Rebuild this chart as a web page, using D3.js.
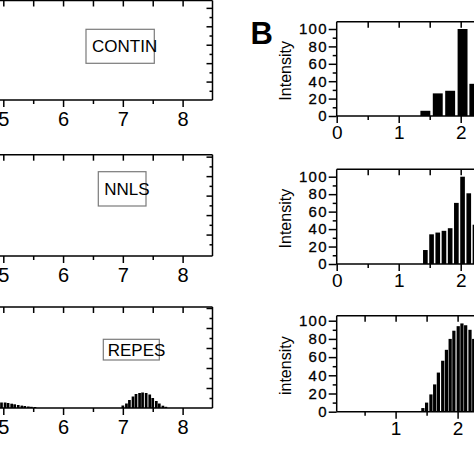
<!DOCTYPE html>
<html>
<head>
<meta charset="utf-8">
<script src="https://cdn.jsdelivr.net/npm/d3@7"></script>
<style>
  html, body { margin: 0; padding: 0; background: #fff; }
  svg { display: block; font-family: "Liberation Sans", Arial, sans-serif; }
</style>
</head>
<body>
<div id="chart"></div>
<script>
// ---- data ----
// left column (A): method names and the REPES distribution
const methodNames = ["CONTIN", "NNLS", "REPES"];
const leftXTicks = [5, 6, 7, 8];
const repesX = [4.92, 4.97, 5.03, 5.08, 5.14, 5.19, 5.25, 5.31, 5.36, 5.42, 5.47, 5.53,
                7.00, 7.06, 7.11, 7.17, 7.22, 7.28, 7.33, 7.39, 7.45, 7.50, 7.56, 7.61, 7.67, 7.72];
const repesY = [5.5, 5.5, 5.5, 5, 4.3, 3.7, 3, 2.4, 2, 1.5, 1.2, 1,
                2.5, 4.5, 8, 11.5, 14, 15, 15.5, 15, 13.5, 10, 7, 4.5, 2.3, 1.2];

// right column (B): intensity distributions
const continX = [1.43, 1.63, 1.83, 2.03, 2.22];
const continY = [6, 26, 29, 100, 37];
const nnlsX = [1.43, 1.53, 1.63, 1.73, 1.83, 1.93, 2.03, 2.13, 2.23];
const nnlsY = [16, 34, 36, 38, 41, 70, 100, 81, 45];
const repesBX = [1.44, 1.50, 1.57, 1.63, 1.69, 1.76, 1.82, 1.88, 1.94, 2.01, 2.07, 2.13, 2.20, 2.26];
const repesBY = [4, 10, 19, 30, 43, 56, 68, 80, 89, 94, 97, 95, 90, 80];
const intensityTicks = [0, 20, 40, 60, 80, 100];
const intensityTitles = ["Intensity", "Intensity", "intensity"];

const W = 474, H = 474;
const svg = d3.select("#chart").append("svg")
    .attr("width", W)
    .attr("height", H);

// style an axis group: black lines, drop the domain path
function styleAxis(g) {
    g.selectAll("line").attr("stroke", "#000").attr("stroke-width", 1.5);
    g.select(".domain").remove();
}

// ---------- left column ----------
const leftPanels = [
    { top: 0.5, bottom: 100, yMin: 0, yMax: 108, box: [86, 29.3, 68.3, 34], tx: 92, ty: 52 },
    { top: 154.7, bottom: 256, yMin: -2, yMax: 102, box: [98.3, 171.7, 47.7, 34.3], tx: 104.3, ty: 195 },
    { top: 307, bottom: 408, yMin: 0, yMax: 101, box: [103.3, 339.3, 56, 20.7], tx: 107.7, ty: 355.7 }
];

leftPanels.forEach((p, i) => {
    const x = d3.scaleLinear().domain([5, 8.5]).range([3.3, 212.5]);
    const y = d3.scaleLinear().domain([p.yMin, p.yMax]).range([p.bottom, p.top]);
    const g = svg.append("g");

    // bars (only REPES has visible bars in this crop)
    if (i === 2) {
        const bw = x(5.045) - x(5);
        g.selectAll("rect.bar")
            .data(repesX.map((d, k) => ({ x: d, y: repesY[k] })))
            .join("rect")
            .attr("class", "bar")
            .attr("x", d => Math.max(0, x(d.x) - bw / 2))
            .attr("width", d => x(d.x) - bw / 2 < 0 ? bw + (x(d.x) - bw / 2) : bw)
            .attr("y", d => y(d.y))
            .attr("height", d => y(0) - y(d.y))
            .attr("fill", "#000");
    }

    // bottom axis: major with labels, minor shorter
    const bMajor = g.append("g").attr("transform", `translate(0,${p.bottom})`)
        .call(d3.axisBottom(x).tickValues(leftXTicks).tickSize(7).tickSizeOuter(0)
            .tickPadding(5).tickFormat(d3.format("d")));
    styleAxis(bMajor);
    bMajor.selectAll("text").attr("font-size", 20).attr("fill", "#000")
        .attr("font-family", "Liberation Sans, Arial, sans-serif");
    const bMinor = g.append("g").attr("transform", `translate(0,${p.bottom})`)
        .call(d3.axisBottom(x).tickValues([5.5, 6.5, 7.5]).tickSize(4).tickFormat(""));
    styleAxis(bMinor);

    // top axis, ticks pointing inward
    const tAx = g.append("g").attr("transform", `translate(0,${p.top})`)
        .call(d3.axisTop(x).tickValues([5, 5.5, 6, 6.5, 7, 7.5, 8]).tickSize(-6).tickFormat(""));
    styleAxis(tAx);

    // right axis, ticks inward, long on every 20
    const yTicks = d3.range(10, p.yMax, 10);
    const rLong = g.append("g").attr("transform", `translate(${x(8.5)},0)`)
        .call(d3.axisRight(y).tickValues(yTicks.filter(v => v % 20 === 0)).tickSize(-6).tickFormat(""));
    styleAxis(rLong);
    const rShort = g.append("g").attr("transform", `translate(${x(8.5)},0)`)
        .call(d3.axisRight(y).tickValues(yTicks.filter(v => v % 20 !== 0)).tickSize(-3).tickFormat(""));
    styleAxis(rShort);

    // frame lines
    g.append("line").attr("x1", -2).attr("x2", x(8.5)).attr("y1", p.top).attr("y2", p.top)
        .attr("stroke", "#000").attr("stroke-width", 1.5);
    g.append("line").attr("x1", -2).attr("x2", x(8.5)).attr("y1", p.bottom).attr("y2", p.bottom)
        .attr("stroke", "#000").attr("stroke-width", 1.5);
    g.append("line").attr("x1", x(8.5)).attr("x2", x(8.5)).attr("y1", p.top).attr("y2", p.bottom)
        .attr("stroke", "#000").attr("stroke-width", 1.5);

    // method label in a grey box
    g.append("rect").attr("x", p.box[0]).attr("y", p.box[1])
        .attr("width", p.box[2]).attr("height", p.box[3])
        .attr("fill", "none").attr("stroke", "#7a7a7a").attr("stroke-width", 1.2);
    g.append("text").attr("x", p.tx).attr("y", p.ty)
        .attr("font-size", 17).attr("fill", "#000")
        .text(methodNames[i]);
});

// ---------- right column ----------
const rightPanels = [
    { xs: continX, ys: continY, bw: 0.16, x0: 0, xPx0: 336.7, top: 21.7, y0: 116, y100: 29, xLabels: [0, 1, 2] },
    { xs: nnlsX, ys: nnlsY, bw: 0.075, x0: 0, xPx0: 336.7, top: 169.3, y0: 264, y100: 176.7, xLabels: [0, 1, 2] },
    { xs: repesBX, ys: repesBY, bw: 0.052, x0: 0.05, xPx0: 336.7, top: 315.7, y0: 411.7, y100: 320.7, xLabels: [1, 2] }
];

rightPanels.forEach((p, i) => {
    const unit = 62;
    const x = d3.scaleLinear().domain([p.x0, p.x0 + 3]).range([p.xPx0, p.xPx0 + 3 * unit]);
    const y = d3.scaleLinear().domain([0, 100]).range([p.y0, p.y100]);
    const g = svg.append("g");

    // bars
    g.selectAll("rect.bar")
        .data(p.xs.map((d, k) => ({ x: d, y: p.ys[k] })))
        .join("rect")
        .attr("class", "bar")
        .attr("x", d => x(d.x - p.bw / 2))
        .attr("width", x(p.bw) - x(0))
        .attr("y", d => y(d.y))
        .attr("height", d => y(0) - y(d.y))
        .attr("fill", "#000");

    // left axis: labelled major ticks + short minor ones
    const lMajor = g.append("g").attr("transform", `translate(${p.xPx0},0)`)
        .call(d3.axisLeft(y).tickValues(intensityTicks).tickSize(8).tickPadding(1));
    styleAxis(lMajor);
    lMajor.selectAll("text").attr("font-size", 15).attr("letter-spacing", 1.2)
        .attr("fill", "#000").attr("stroke", "#000").attr("stroke-width", 0.3)
        .attr("font-family", "Liberation Sans, Arial, sans-serif");
    const lMinor = g.append("g").attr("transform", `translate(${p.xPx0},0)`)
        .call(d3.axisLeft(y).tickValues([10, 30, 50, 70, 90]).tickSize(4).tickFormat(""));
    styleAxis(lMinor);

    // bottom axis
    const majors = p.x0 > 0 ? [1, 2, 3] : [0, 1, 2, 3];
    const bMajor = g.append("g").attr("transform", `translate(0,${p.y0})`)
        .call(d3.axisBottom(x).tickValues(majors).tickSize(7).tickPadding(3)
            .tickFormat(d => p.xLabels.includes(d) ? d : ""));
    styleAxis(bMajor);
    bMajor.selectAll("text").attr("font-size", 19).attr("fill", "#000")
        .attr("font-family", "Liberation Sans, Arial, sans-serif");
    const bMinor = g.append("g").attr("transform", `translate(0,${p.y0})`)
        .call(d3.axisBottom(x).tickValues([0.5, 1.5, 2.5]).tickSize(4).tickFormat(""));
    styleAxis(bMinor);

    // top axis, inward ticks
    const tAx = g.append("g").attr("transform", `translate(0,${p.top})`)
        .call(d3.axisTop(x).tickValues([0.5, 1, 1.5, 2, 2.5]).tickSize(-6).tickFormat(""));
    styleAxis(tAx);

    // frame
    g.append("line").attr("x1", p.xPx0).attr("x2", W + 2).attr("y1", p.top).attr("y2", p.top)
        .attr("stroke", "#000").attr("stroke-width", 1.5);
    g.append("line").attr("x1", p.xPx0).attr("x2", W + 2).attr("y1", p.y0).attr("y2", p.y0)
        .attr("stroke", "#000").attr("stroke-width", 1.5);
    g.append("line").attr("x1", p.xPx0).attr("x2", p.xPx0).attr("y1", p.top).attr("y2", p.y0)
        .attr("stroke", "#000").attr("stroke-width", 1.5);

    // y title
    const cy = (p.top + p.y0) / 2 + 2;
    g.append("text")
        .attr("transform", `translate(291,${cy}) rotate(-90)`)
        .attr("text-anchor", "middle")
        .attr("font-size", 16)
        .attr("fill", "#000")
        .text(intensityTitles[i]);
});

// panel letter
svg.append("text")
    .attr("x", 250.5).attr("y", 43.5)
    .attr("font-size", 31).attr("font-weight", "bold").attr("fill", "#000")
    .text("B");
</script>
</body>
</html>
